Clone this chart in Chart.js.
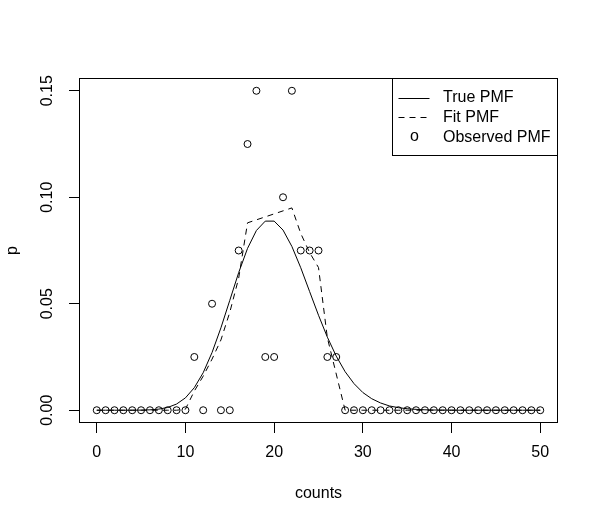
<!DOCTYPE html>
<html><head><meta charset="utf-8">
<script src="https://cdn.jsdelivr.net/npm/chart.js@4.4.0/dist/chart.umd.min.js"></script>
<style>html,body{margin:0;padding:0;background:#fff;} #wrap{width:598px;height:522px;}</style>
</head><body><div id="wrap"><canvas id="c" width="598" height="522"></canvas></div>
<script>
// ---- data ----
const counts = [0,1,2,3,4,5,6,7,8,9,10,11,12,13,14,15,16,17,18,19,20,21,22,23,24,25,26,27,28,29,30,31,32,33,34,35,36,37,38,39,40,41,42,43,44,45,46,47,48,49,50];
const truePMF = [0,0,0,0,0.00001,0.00005,0.00018,0.00052,0.0013,0.0029,0.0058,0.0106,0.0176,0.0271,0.0387,0.0516,0.0646,0.0760,0.0844,0.0888,0.0888,0.0846,0.0769,0.0669,0.0557,0.0446,0.0343,0.0254,0.0181,0.0125,0.0083,0.0054,0.0034,0.0020,0.0012,0.0007,0.0004,0.0002,0.0001,0.00006,0.00003,0,0,0,0,0,0,0,0,0,0];
const fitPMF = [0,0,0,0,0,0,0,0,0,0,0.0005,0.009,0.016,0.024,0.033,0.046,0.062,0.088,0.0894,0.0908,0.0922,0.0936,0.095,0.083,0.074,0.067,0.034,0.017,0,0,0,0,0,0,0,0,0,0,0,0,0,0,0,0,0,0,0,0,0,0,0];
const observedPMF = [0,0,0,0,0,0,0,0,0,0,0,0.025,0,0.05,0,0,0.075,0.125,0.15,0.025,0.025,0.1,0.15,0.075,0.075,0.075,0.025,0.025,0,0,0,0,0,0,0,0,0,0,0,0,0,0,0,0,0,0,0,0,0,0,0];
const seriesLabels = ["True PMF","Fit PMF","Observed PMF"];
const xTicks = [0,10,20,30,40,50];
const yTicks = [0,0.05,0.10,0.15];
const yTickLabels = ["0.00","0.05","0.10","0.15"];
const xTitle = "counts";
const yTitle = "p";

const FONT = "'Liberation Sans', Arial, Helvetica, sans-serif";
Chart.defaults.font.family = FONT;
Chart.defaults.font.size = 16;
Chart.defaults.color = '#000';

const toXY = (ys) => counts.map((c, i) => ({x: c, y: ys[i]}));

const boxPlugin = {
  id: 'rbox',
  afterDraw(chart) {
    const {ctx, chartArea: a} = chart;
    ctx.save();
    ctx.strokeStyle = '#000';
    ctx.lineWidth = 1;
    ctx.setLineDash([]);
    ctx.strokeRect(Math.round(a.left) + 0.5, Math.round(a.top) + 0.5,
                   Math.round(a.right - a.left) - 1, Math.round(a.bottom - a.top) - 1);
    ctx.restore();
  }
};

const legendPlugin = {
  id: 'rlegend',
  afterDraw(chart) {
    const {ctx, chartArea: a} = chart;
    const ds = chart.data.datasets;
    const boxL = 392, boxR = Math.round(a.right), boxT = Math.round(a.top), boxB = 156;
    ctx.save();
    ctx.fillStyle = '#fff';
    ctx.fillRect(boxL, boxT, boxR - boxL, boxB - boxT);
    ctx.strokeStyle = '#000';
    ctx.lineWidth = 1;
    ctx.strokeRect(boxL + 0.5, boxT + 0.5, boxR - boxL - 1, boxB - boxT - 1);
    const rows = [97.5, 117, 137];
    ctx.font = '16px ' + FONT;
    ctx.textBaseline = 'middle';
    ds.forEach((d, i) => {
      const y = rows[i];
      if (d.showLine === false) {
        ctx.fillStyle = '#000';
        ctx.textAlign = 'center';
        ctx.fillText('o', 414.5, y);
      } else {
        ctx.strokeStyle = d.borderColor;
        ctx.lineWidth = d.borderWidth;
        ctx.setLineDash(d.borderDash || []);
        ctx.beginPath();
        ctx.moveTo(398.5, Math.round(y) + 0.5);
        ctx.lineTo(429.5, Math.round(y) + 0.5);
        ctx.stroke();
        ctx.setLineDash([]);
      }
      ctx.fillStyle = '#000';
      ctx.textAlign = 'left';
      ctx.fillText(d.label, 443, y + 0.5);
    });
    ctx.restore();
  }
};

new Chart(document.getElementById('c'), {
  type: 'line',
  data: {
    datasets: [
      {label: seriesLabels[0], data: toXY(truePMF), borderColor: '#000', borderWidth: 1, pointRadius: 0, tension: 0, fill: false},
      {label: seriesLabels[1], data: toXY(fitPMF), borderColor: '#000', borderWidth: 1, borderDash: [6, 5], pointRadius: 0, tension: 0, fill: false},
      {label: seriesLabels[2], data: toXY(observedPMF), showLine: false, pointRadius: 3.5, pointBorderWidth: 1, pointBorderColor: '#000', pointBackgroundColor: 'rgba(0,0,0,0)', borderColor: '#000'}
    ]
  },
  options: {
    responsive: false,
    animation: false,
    devicePixelRatio: 1,
    layout: {padding: {top: 78, right: 40, left: 0, bottom: 0}},
    plugins: {legend: {display: false}, tooltip: {enabled: false}},
    events: [],
    scales: {
      x: {
        type: 'linear', min: -2, max: 52,
        afterBuildTicks: (s) => { s.ticks = xTicks.map(v => ({value: v})); },
        afterFit: (s) => { s.height = 99; },
        grid: {drawOnChartArea: false, drawTicks: true, tickLength: 10, color: '#000', lineWidth: 1},
        border: {display: false},
        ticks: {autoSkip: false, maxRotation: 0, padding: 10, color: '#000', font: {size: 16}, callback: (v) => String(v)},
        title: {display: true, text: xTitle, color: '#000', font: {size: 16}, padding: {top: 0, bottom: 19}}
      },
      y: {
        type: 'linear', min: -0.006, max: 0.156,
        afterBuildTicks: (s) => { s.ticks = yTicks.map(v => ({value: v})); },
        afterFit: (s) => { s.width = 79; },
        grid: {drawOnChartArea: false, drawTicks: true, tickLength: 10, color: '#000', lineWidth: 1},
        border: {display: false},
        ticks: {autoSkip: false, minRotation: 90, maxRotation: 90, crossAlign: 'center', padding: 6, color: '#000', font: {size: 16},
                callback: (v, i) => yTickLabels[i]},
        title: {display: true, text: yTitle, color: '#000', font: {size: 16}, padding: {top: 3, bottom: 0}}
      }
    }
  },
  plugins: [boxPlugin, legendPlugin]
});
</script>
</body></html>
